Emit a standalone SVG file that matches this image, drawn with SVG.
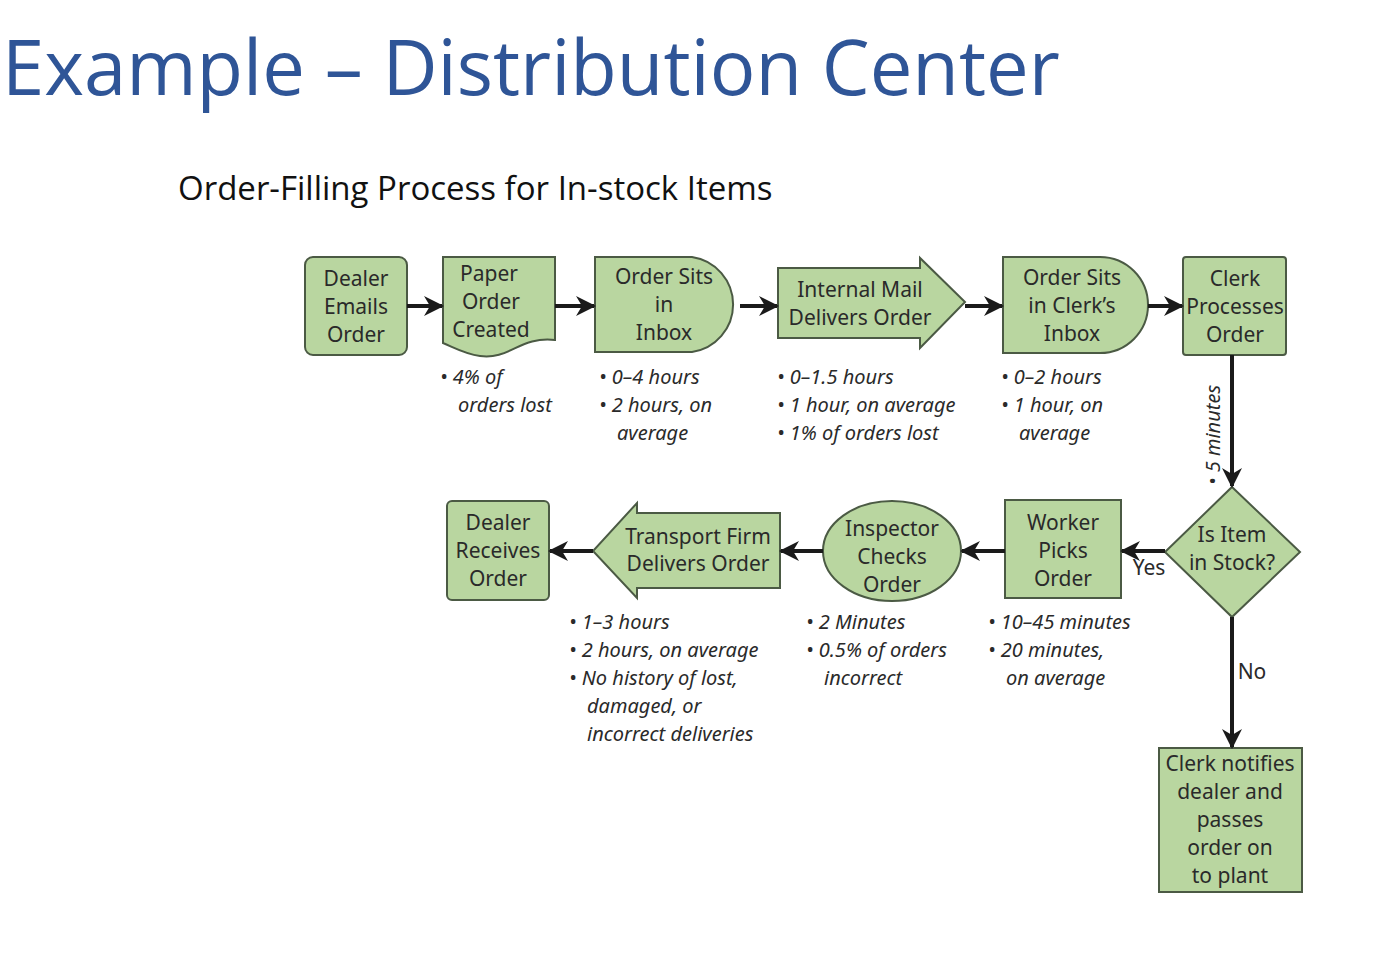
<svg xmlns="http://www.w3.org/2000/svg" width="1389" height="968" viewBox="0 0 1389 968">
<style>
.n{fill:#b9d6a0;stroke:#4b5a44;stroke-width:2}
.t{font-family:"Noto Sans",sans-serif;font-size:21px;fill:#2a2a2a;text-anchor:middle}
.b{font-family:"Noto Sans",sans-serif;font-size:20px;font-style:italic;fill:#2a2a2a}
.c{stroke:#1a1a1a;stroke-width:4;fill:none;marker-end:url(#a)}
</style>
<defs><marker id="a" viewBox="0 0 10 10" refX="9" refY="5" markerWidth="5" markerHeight="5" orient="auto" markerUnits="strokeWidth"><path d="M0,0 L10,5 L0,10 L3,5 z" fill="#1a1a1a"/></marker></defs>
<rect width="1389" height="968" fill="#fff"/>
<text x="2" y="95" font-family="Open Sans,sans-serif" font-size="76" fill="#2f5597">Example – Distribution Center</text>
<text x="178" y="200" font-family="Open Sans,sans-serif" font-size="33" fill="#111">Order-Filling Process for In-stock Items</text>
<g id="n1"><rect class="n" x="305" y="257" width="102" height="98" rx="8"/><text class="t" x="356" y="286">Dealer</text><text class="t" x="356" y="314">Emails</text><text class="t" x="356" y="342">Order</text></g>
<g id="n2"><path class="n" d="M443,257 H555 V340 C520,336 510,360 480,356 C465,354 455,348 443,343 Z"/><text class="t" x="489" y="281">Paper</text><text class="t" x="491" y="309">Order</text><text class="t" x="491" y="337">Created</text></g>
<g id="n3"><path class="n" d="M595,257 H692 A48,48 0 0 1 692,352 H595 Z"/><text class="t" x="664" y="284">Order Sits</text><text class="t" x="664" y="312">in</text><text class="t" x="664" y="340">Inbox</text></g>
<g id="n4"><path class="n" d="M778,268 H920 V258 L965,302 L920,348 V338 H778 Z"/><text class="t" x="860" y="297">Internal Mail</text><text class="t" x="860" y="325">Delivers Order</text></g>
<g id="n5"><path class="n" d="M1003,257 H1100 A48,48 0 0 1 1100,353 H1003 Z"/><text class="t" x="1072" y="285">Order Sits</text><text class="t" x="1072" y="313">in Clerk’s</text><text class="t" x="1072" y="341">Inbox</text></g>
<g id="n6"><rect class="n" x="1183" y="257" width="103" height="98" rx="3"/><text class="t" x="1235" y="286">Clerk</text><text class="t" x="1235" y="314">Processes</text><text class="t" x="1235" y="342">Order</text></g>
<g id="n7"><path class="n" d="M1232,487 L1300,552 L1232,617 L1165,552 Z"/><text class="t" x="1232" y="542">Is Item</text><text class="t" x="1232" y="570">in Stock?</text></g>
<g id="n8"><rect class="n" x="1005" y="500" width="116" height="98"/><text class="t" x="1063" y="530">Worker</text><text class="t" x="1063" y="558">Picks</text><text class="t" x="1063" y="586">Order</text></g>
<g id="n9"><ellipse class="n" cx="892" cy="551" rx="69" ry="50"/><text class="t" x="892" y="536">Inspector</text><text class="t" x="892" y="564">Checks</text><text class="t" x="892" y="592">Order</text></g>
<g id="n10"><path class="n" d="M780,513 V588 H637 V598 L593,551 L637,503 V513 Z"/><text class="t" x="698" y="544">Transport Firm</text><text class="t" x="698" y="571">Delivers Order</text></g>
<g id="n11"><rect class="n" x="447" y="501" width="102" height="99" rx="5"/><text class="t" x="498" y="530">Dealer</text><text class="t" x="498" y="558">Receives</text><text class="t" x="498" y="586">Order</text></g>
<g id="n12"><rect class="n" x="1159" y="748" width="143" height="144"/><text class="t" x="1230" y="771">Clerk notifies</text><text class="t" x="1230" y="799">dealer and</text><text class="t" x="1230" y="827">passes</text><text class="t" x="1230" y="855">order on</text><text class="t" x="1230" y="883">to plant</text></g>
<g id="connectors">
<line class="c" x1="407" y1="306" x2="442" y2="306"/>
<line class="c" x1="555" y1="306" x2="594" y2="306"/>
<line class="c" x1="740" y1="306" x2="777" y2="306"/>
<line class="c" x1="965" y1="306" x2="1002" y2="306"/>
<line class="c" x1="1148" y1="306" x2="1182" y2="306"/>
<line class="c" x1="1232" y1="355" x2="1232" y2="486"/>
<line class="c" x1="1165" y1="551" x2="1122" y2="551"/>
<line class="c" x1="1005" y1="551" x2="962" y2="551"/>
<line class="c" x1="823" y1="551" x2="781" y2="551"/>
<line class="c" x1="593" y1="551" x2="550" y2="551"/>
<line class="c" x1="1232" y1="617" x2="1232" y2="747"/>
</g>
<g id="labels">
<text class="t" x="1149" y="575">Yes</text>
<text class="t" x="1252" y="679">No</text>
<text class="b" transform="translate(1220,485) rotate(-90)">• 5 minutes</text>
<text class="b" x="440" y="384">• 4% of</text><text class="b" x="458" y="412">orders lost</text>
<text class="b" x="599" y="384">• 0–4 hours</text><text class="b" x="599" y="412">• 2 hours, on</text><text class="b" x="617" y="440">average</text>
<text class="b" x="777" y="384">• 0–1.5 hours</text><text class="b" x="777" y="412">• 1 hour, on average</text><text class="b" x="777" y="440">• 1% of orders lost</text>
<text class="b" x="1001" y="384">• 0–2 hours</text><text class="b" x="1001" y="412">• 1 hour, on</text><text class="b" x="1019" y="440">average</text>
<text class="b" x="569" y="629">• 1–3 hours</text><text class="b" x="569" y="657">• 2 hours, on average</text><text class="b" x="569" y="685">• No history of lost,</text><text class="b" x="587" y="713">damaged, or</text><text class="b" x="587" y="741">incorrect deliveries</text>
<text class="b" x="806" y="629">• 2 Minutes</text><text class="b" x="806" y="657">• 0.5% of orders</text><text class="b" x="824" y="685">incorrect</text>
<text class="b" x="988" y="629">• 10–45 minutes</text><text class="b" x="988" y="657">• 20 minutes,</text><text class="b" x="1006" y="685">on average</text>
</g>
</svg>
